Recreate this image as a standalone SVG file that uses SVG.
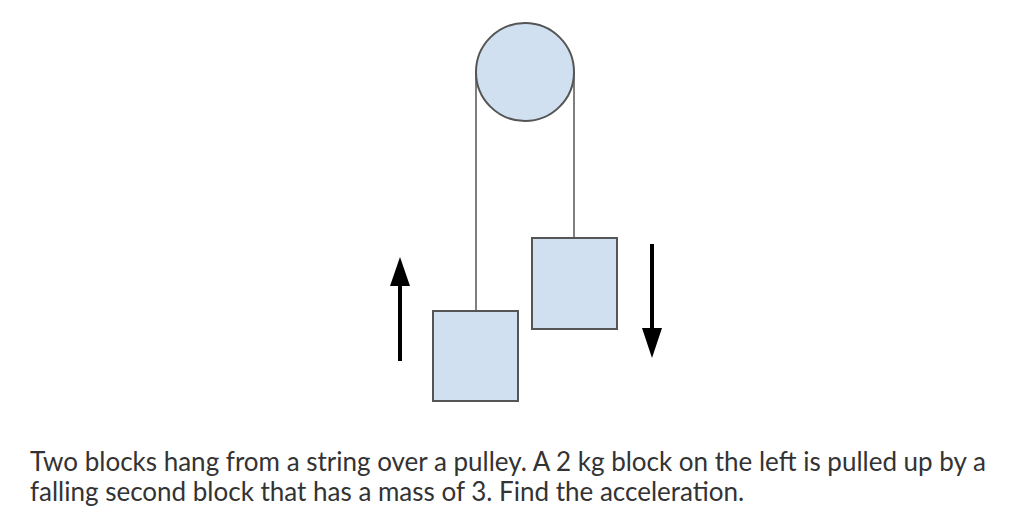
<svg xmlns="http://www.w3.org/2000/svg" width="1024" height="531" viewBox="0 0 1024 531">
<style>
.b{fill:#d0e0f0;stroke:#555;stroke-width:2}
.s{stroke:#555;stroke-width:1.5;fill:none}
.t{font-family:Lato,"Liberation Sans",sans-serif;font-size:26px;fill:#333}
</style>
<rect width="1024" height="531" fill="#fff"/>
<g id="connectors">
<line class="s" x1="476" y1="72" x2="476" y2="311"/>
<line class="s" x1="574" y1="72" x2="574" y2="238"/>
<line x1="400" y1="284" x2="400" y2="361" stroke="#000" stroke-width="4"/>
<polygon points="400,257 390,286 410,286" fill="#000"/>
<line x1="652" y1="244" x2="652" y2="330" stroke="#000" stroke-width="4"/>
<polygon points="652,358 642,328 662,328" fill="#000"/>
</g>
<g id="pulley"><circle class="b" cx="525" cy="72" r="49"/></g>
<g id="leftBlock"><rect class="b" x="433" y="311" width="85" height="90"/></g>
<g id="rightBlock"><rect class="b" x="532" y="238" width="85" height="91"/></g>
<g id="caption">
<text class="t" x="30" y="471">Two blocks hang from a string over a pulley. A 2 kg block on the left is pulled up by a</text>
<text class="t" x="30" y="501">falling second block that has a mass of 3. Find the acceleration.</text>
</g>
</svg>
